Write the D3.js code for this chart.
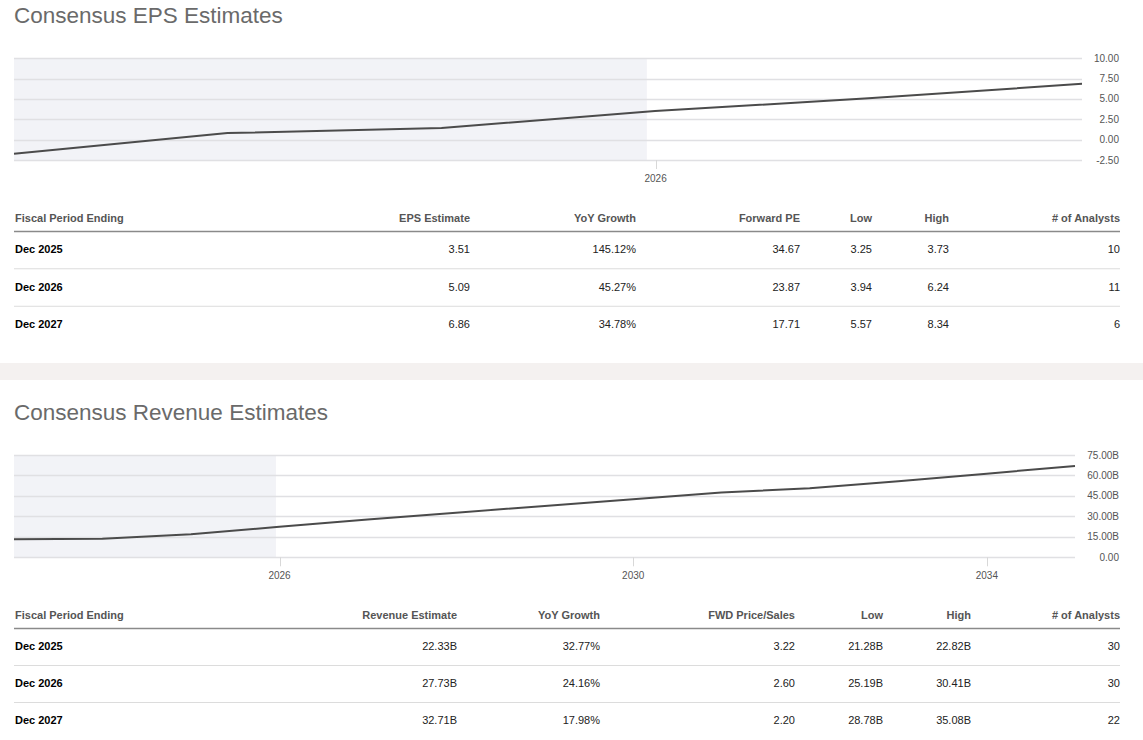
<!DOCTYPE html>
<html>
<head>
<meta charset="utf-8">
<script src="https://cdn.jsdelivr.net/npm/d3@7"></script>
<style>
  html, body { margin: 0; padding: 0; background: #fff; }
  svg { display: block; font-family: "Liberation Sans", Arial, sans-serif; }
</style>
</head>
<body>
<svg id="chart" width="1143" height="740"></svg>
<script>
// ---------- DATA ----------
const todayDate = "2025-12-17";

const epsDates  = ["2022-12-31","2023-12-31","2024-12-31","2025-12-31","2026-12-31","2027-12-31"];
const epsValues = [-1.72, 0.81, 1.43, 3.51, 5.09, 6.86];
const epsYTicks = [-2.5, 0, 2.5, 5, 7.5, 10];
const epsXTicks = ["2026-01-01"];

const revDates  = ["2022-12-31","2023-12-31","2024-12-31","2025-12-31","2026-12-31","2027-12-31","2028-12-31",
                   "2029-12-31","2030-12-31","2031-12-31","2032-12-31","2033-12-31","2034-12-31"];
const revValues = [13.2, 13.6, 16.82, 22.33, 27.73, 32.71, 37.6, 42.5, 47.5, 50.6, 55.8, 61.3, 67.0];
const revYTicks = [0, 15, 30, 45, 60, 75];
const revXTicks = ["2026-01-01","2030-01-01","2034-01-01"];

const periods = ["Dec 2025","Dec 2026","Dec 2027"];

const epsHeaders   = ["Fiscal Period Ending","EPS Estimate","YoY Growth","Forward PE","Low","High","# of Analysts"];
const epsEstimate  = [3.51, 5.09, 6.86];
const epsYoY       = [145.12, 45.27, 34.78];
const epsFwdPE     = [34.67, 23.87, 17.71];
const epsLow       = [3.25, 3.94, 5.57];
const epsHigh      = [3.73, 6.24, 8.34];
const epsAnalysts  = [10, 11, 6];

const revHeaders   = ["Fiscal Period Ending","Revenue Estimate","YoY Growth","FWD Price/Sales","Low","High","# of Analysts"];
const revEstimate  = [22.33, 27.73, 32.71];
const revYoY       = [32.77, 24.16, 17.98];
const revPS        = [3.22, 2.60, 2.20];
const revLow       = [21.28, 25.19, 28.78];
const revHigh      = [22.82, 30.41, 35.08];
const revAnalysts  = [30, 30, 22];

// ---------- DRAW ----------
const parse = d3.timeParse("%Y-%m-%d");
const svg = d3.select("#chart");

function drawChart(cfg) {
  const dates = cfg.dates.map(parse);
  const x = d3.scaleTime().domain([dates[0], dates[dates.length - 1]]).range([cfg.left, cfg.right]);
  const y = d3.scaleLinear().domain([cfg.yTicks[0], cfg.yTicks[cfg.yTicks.length - 1]]).range([cfg.bottom, cfg.top]);
  const g = svg.append("g");

  // historical shading
  g.append("rect")
    .attr("x", x(dates[0]))
    .attr("y", y(cfg.yTicks[cfg.yTicks.length - 1]))
    .attr("width", x(parse(todayDate)) - x(dates[0]))
    .attr("height", y(cfg.yTicks[0]) - y(cfg.yTicks[cfg.yTicks.length - 1]))
    .attr("fill", "#f2f3f7");

  // gridlines
  g.selectAll("line.grid").data(cfg.yTicks).join("line")
    .attr("class", "grid")
    .attr("x1", cfg.left).attr("x2", cfg.right)
    .attr("y1", d => Math.round(y(d)) + 0.5).attr("y2", d => Math.round(y(d)) + 0.5)
    .attr("stroke", "#e0e0e3").attr("stroke-width", 1.3);

  // y labels
  g.selectAll("text.ylab").data(cfg.yTicks).join("text")
    .attr("class", "ylab")
    .attr("x", 1119).attr("y", d => y(d))
    .attr("dy", "0.35em")
    .attr("text-anchor", "end")
    .attr("font-size", 10).attr("fill", "#555")
    .text(cfg.yFormat);

  // x ticks
  const xt = cfg.xTicks.map(parse);
  g.selectAll("line.xt").data(xt).join("line")
    .attr("class", "xt")
    .attr("x1", d => Math.round(x(d)) + 0.5).attr("x2", d => Math.round(x(d)) + 0.5)
    .attr("y1", y(cfg.yTicks[0])).attr("y2", y(cfg.yTicks[0]) + 9)
    .attr("stroke", "#d8d8d8").attr("stroke-width", 1);
  g.selectAll("text.xl").data(xt).join("text")
    .attr("class", "xl")
    .attr("x", d => x(d)).attr("y", y(cfg.yTicks[0]) + 22)
    .attr("text-anchor", "middle")
    .attr("font-size", 10).attr("fill", "#555")
    .text(d3.timeFormat("%Y"));

  // line
  const line = d3.line()
    .x((d, i) => x(dates[i]))
    .y(d => y(d))
    .curve(d3.curveLinear);
  g.append("path")
    .datum(cfg.values)
    .attr("d", line)
    .attr("fill", "none")
    .attr("stroke", "#4b4b4b")
    .attr("stroke-width", 2)
    .attr("stroke-linejoin", "round");
}

function drawTitle(text, yBase) {
  svg.append("text")
    .attr("x", 14).attr("y", yBase)
    .attr("font-size", 22.5).attr("fill", "#6a6a6a")
    .text(text);
}

function drawTable(cfg) {
  const g = svg.append("g");
  const cols = cfg.colRight;
  g.selectAll("text.h").data(cfg.headers).join("text")
    .attr("class", "h")
    .attr("x", (d, i) => i === 0 ? 15 : cols[i])
    .attr("y", cfg.headerY)
    .attr("dy", "0.35em")
    .attr("text-anchor", (d, i) => i === 0 ? "start" : "end")
    .attr("font-size", 11).attr("font-weight", "bold").attr("fill", "#555")
    .text(d => d);
  g.append("line")
    .attr("x1", 14).attr("x2", 1120)
    .attr("y1", cfg.headerLine).attr("y2", cfg.headerLine)
    .attr("stroke", "#8a8a8a").attr("stroke-width", 1.5);

  const rows = cfg.periods.map((p, r) => [p].concat(cfg.columns.map((c, ci) => cfg.formats[ci](c[r]))));
  const rowG = g.selectAll("g.row").data(rows).join("g")
    .attr("class", "row")
    .attr("transform", (d, r) => `translate(0,${cfg.firstRowY + r * cfg.rowH})`);
  rowG.selectAll("text").data(d => d).join("text")
    .attr("x", (d, i) => i === 0 ? 15 : cols[i])
    .attr("y", 0).attr("dy", "0.35em")
    .attr("text-anchor", (d, i) => i === 0 ? "start" : "end")
    .attr("font-size", 11)
    .attr("font-weight", (d, i) => i === 0 ? "bold" : "normal")
    .attr("fill", (d, i) => i === 0 ? "#000" : "#222")
    .text(d => d);
  g.selectAll("line.sep").data(rows.slice(0, rows.length - 1)).join("line")
    .attr("class", "sep")
    .attr("x1", 14).attr("x2", 1120)
    .attr("y1", (d, r) => cfg.firstRowY + r * cfg.rowH + cfg.rowH / 2 + 0.5)
    .attr("y2", (d, r) => cfg.firstRowY + r * cfg.rowH + cfg.rowH / 2 + 0.5)
    .attr("stroke", "#dcdcdc").attr("stroke-width", 1);
}

const f2 = d => d.toFixed(2);
const pct = d => f2(d) + "%";
const bil = d => f2(d) + "B";
const int = d => String(d);

// EPS section
drawTitle("Consensus EPS Estimates", 23);
drawChart({
  dates: epsDates, values: epsValues, yTicks: epsYTicks, xTicks: epsXTicks,
  left: 14, right: 1082, top: 58.3, bottom: 160,
  yFormat: d => f2(d)
});
drawTable({
  headers: epsHeaders, periods: periods,
  columns: [epsEstimate, epsYoY, epsFwdPE, epsLow, epsHigh, epsAnalysts],
  formats: [f2, pct, f2, f2, f2, int],
  colRight: [15, 470, 636, 800, 872, 949, 1120],
  headerY: 218, headerLine: 231.5, firstRowY: 249.5, rowH: 37.5
});

// separator band
svg.append("rect").attr("x", 0).attr("y", 363).attr("width", 1143).attr("height", 17).attr("fill", "#f4f1f0");

// Revenue section
drawTitle("Consensus Revenue Estimates", 420);
drawChart({
  dates: revDates, values: revValues, yTicks: revYTicks, xTicks: revXTicks,
  left: 14, right: 1075, top: 455, bottom: 557.3,
  yFormat: d => d === 0 ? "0.00" : f2(d) + "B"
});
drawTable({
  headers: revHeaders, periods: periods,
  columns: [revEstimate, revYoY, revPS, revLow, revHigh, revAnalysts],
  formats: [bil, pct, f2, bil, bil, int],
  colRight: [15, 457, 600, 795, 883, 971, 1120],
  headerY: 615, headerLine: 628.5, firstRowY: 646.5, rowH: 37
});
</script>
</body>
</html>
